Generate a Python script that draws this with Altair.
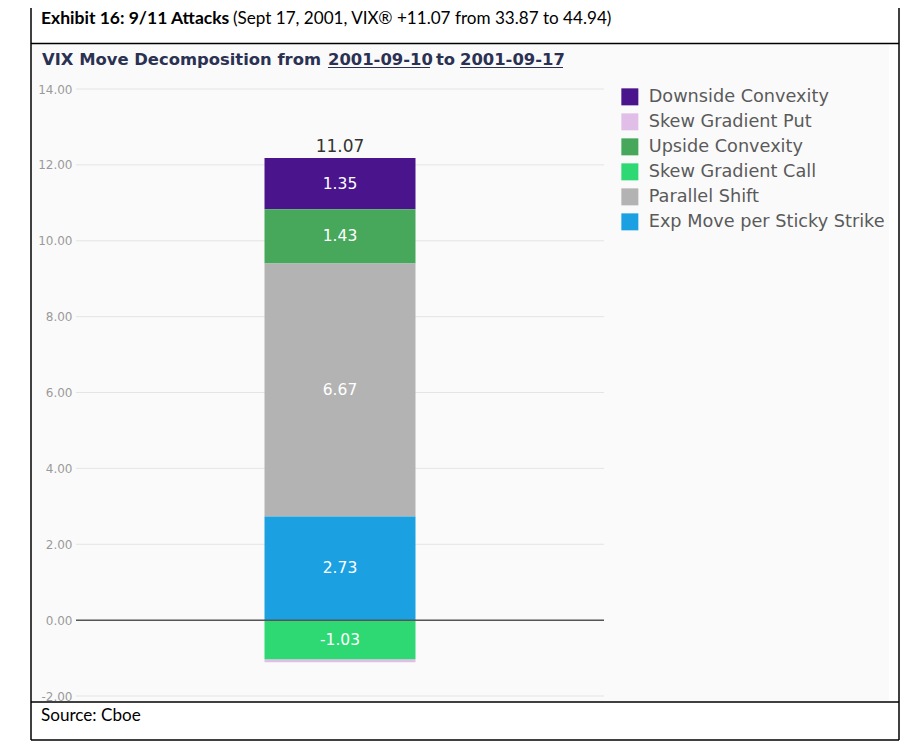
import altair as alt
import pandas as pd

# ---- data ----
components = ["Downside Convexity", "Skew Gradient Put", "Upside Convexity",
              "Skew Gradient Call", "Parallel Shift", "Exp Move per Sticky Strike"]
values = [1.35, -0.08, 1.43, -1.03, 6.67, 2.73]
colors = ["#4a148c", "#e1bee7", "#47a85c", "#2ed873", "#b3b3b3", "#1ba1e2"]
y_ticks = [-2, 0, 2, 4, 6, 8, 10, 12, 14]
header_bold = "Exhibit 16: 9/11 Attacks"
header_rest = "(Sept 17, 2001, VIX\u00ae +11.07 from 33.87 to 44.94)"
title_parts = ["VIX Move Decomposition from", "2001-09-10", "to", "2001-09-17"]
source_text = "Source: Cboe"

df = pd.DataFrame({
    "component": components,
    "value": values,
    "order": [len(components) - 1 - i for i in range(len(components))],
    "grp": ["VIX"] * len(components),
})
ticks_df = pd.DataFrame({"v": y_ticks})
one = pd.DataFrame({"a": [0]})

W, H = 528, 607
FONT = "DejaVu Sans"
HFONT = "Lato"

yscale = alt.Scale(domain=[-2, 14], nice=False)
xenc = alt.X("grp:N", axis=None)

base = alt.Chart(df).transform_stack(
    stack="value", groupby=["grp"], as_=["y0", "y1"],
    sort=[alt.SortField("order", order="ascending")]
)

background = alt.Chart(one).mark_rect(color="#fafafa").encode(
    x=alt.value(-44), x2=alt.value(813), y=alt.value(-45), y2=alt.value(613))

grid = alt.Chart(ticks_df).mark_rule(color="#e4e4e4", strokeWidth=1).encode(
    y=alt.Y("v:Q", scale=yscale,
            axis=alt.Axis(values=y_ticks, grid=False, domain=False,
                          labelExpr="replace(format(datum.value, '.2f'), '\u2212', '-')",
                          ticks=False, labelPadding=4, labelFont=FONT,
                          labelFontSize=12, labelColor="#9a9a9a", title=None,
                          zindex=2)))

bars = base.mark_bar(size=151).encode(
    x=xenc,
    y=alt.Y("y0:Q", scale=yscale),
    y2="y1:Q",
    color=alt.Color("component:N",
                    scale=alt.Scale(domain=components, range=colors),
                    legend=alt.Legend(orient="none", legendX=545, legendY=-1,
                                      title=None, symbolType="square",
                                      symbolSize=289, symbolStrokeWidth=0,
                                      labelFont=FONT, labelFontSize=17.7,
                                      labelColor="#5a5a5a", labelOffset=10,
                                      rowPadding=6, padding=0,
                                      labelLimit=400)),
)

seg_labels = base.transform_filter("abs(datum.value) > 0.5").transform_calculate(
    mid="(datum.y0 + datum.y1) / 2",
    lbl="replace(format(datum.value, '.2f'), '\u2212', '-')",
).mark_text(color="white", font=FONT, fontSize=15.5, fontWeight=500).encode(
    x=xenc, y=alt.Y("mid:Q", scale=yscale), text="lbl:N")

total_label = alt.Chart(df).transform_calculate(
    pos="max(datum.value, 0)"
).transform_aggregate(
    total="sum(value)", top="sum(pos)", groupby=["grp"]
).transform_calculate(
    lbl="format(datum.total, '.2f')"
).mark_text(color="#333333", font=FONT, fontSize=17, baseline="bottom", dy=-2).encode(
    x=xenc, y=alt.Y("top:Q", scale=yscale), text="lbl:N")

zero = alt.Chart(pd.DataFrame({"v": [0]})).mark_rule(color="#555555", strokeWidth=1.5).encode(
    y=alt.Y("v:Q", scale=yscale))

def txt(text, x, y, **kw):
    return alt.Chart(one).mark_text(text=text, align="left", baseline="middle", **kw).encode(
        x=alt.value(x), y=alt.value(y))

def rule(x, x2, y, y2, **kw):
    return alt.Chart(one).mark_rule(**kw).encode(
        x=alt.value(x), x2=alt.value(x2), y=alt.value(y), y2=alt.value(y2))

title_color = "#2b3152"
tkw = dict(font=FONT, fontSize=16.4, fontWeight="bold", color=title_color)
title_layers = [
    txt(title_parts[0], -34, -29, **tkw),
    txt(title_parts[1], 252, -29, **tkw),
    txt(title_parts[2], 360, -29, **tkw),
    txt(title_parts[3], 384, -29, **tkw),
    rule(252, 354, -21.5, -21.5, color=title_color, strokeWidth=1),
    rule(384, 487, -21.5, -21.5, color=title_color, strokeWidth=1),
]

header = [
    txt(header_bold, -35, -70, font=HFONT, fontSize=17.5, fontWeight="bold", color="black"),
    txt(header_rest, 157, -70, font=HFONT, fontSize=17.1, color="black"),
    txt(source_text, -35, 627, font=HFONT, fontSize=17.1, color="black"),
]

frame = [
    rule(-45, 823, -85, -85, color="black", strokeWidth=1.5),
    rule(-45, 823, -45.5, -45.5, color="black", strokeWidth=1.5),
    rule(-45, 823, 613, 613, color="black", strokeWidth=1.5),
    rule(-45, 823, 651, 651, color="black", strokeWidth=1.5),
    rule(-45, -45, -85, 651, color="black", strokeWidth=1.5),
    rule(823, 823, -85, 651, color="black", strokeWidth=1.5),
]

chart = alt.layer(
    background, grid, bars, zero, seg_labels, total_label,
    *title_layers, *header, *frame
).properties(
    width=W, height=H,
    padding={"left": 68, "top": 81, "right": 301, "bottom": 49},
    autosize=alt.AutoSizeParams(type="none"),
).configure_view(stroke=None)

chart.save("out.html", embed_options={"renderer": "svg", "actions": False})
